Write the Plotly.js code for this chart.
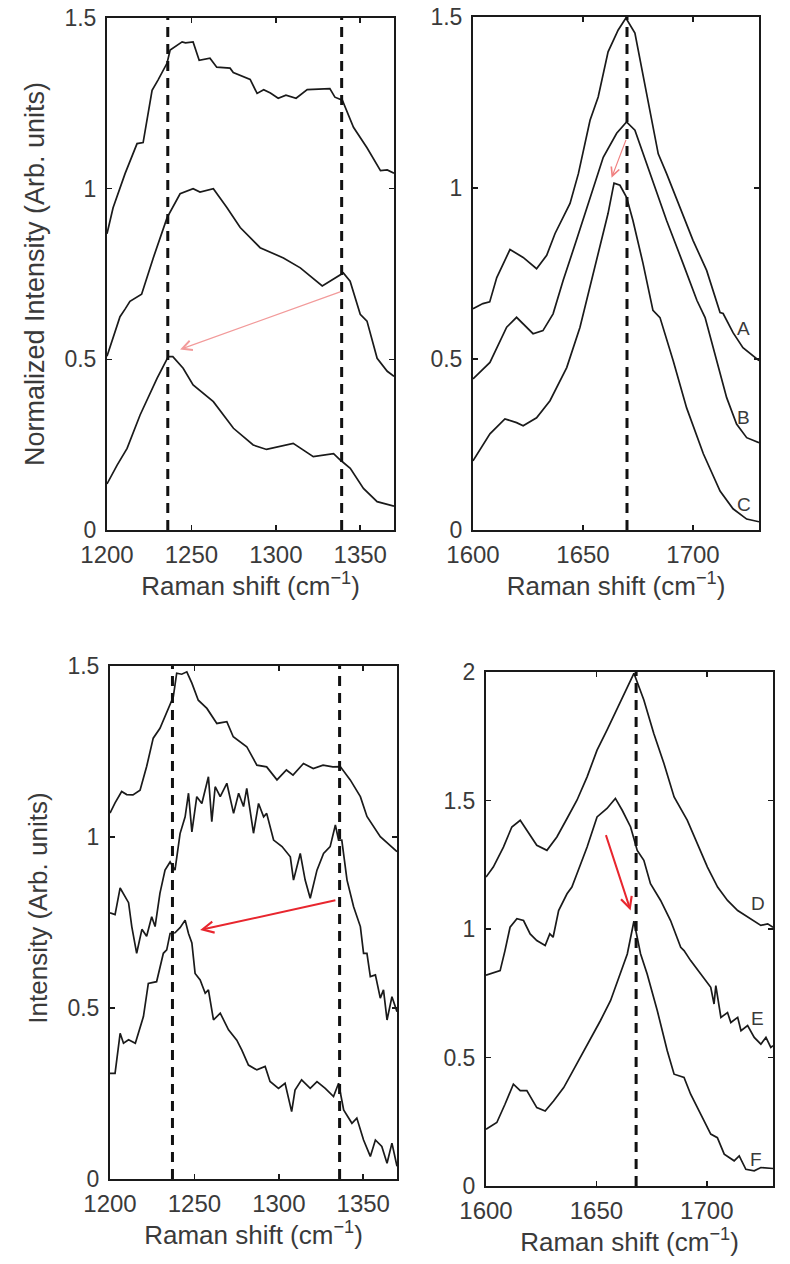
<!DOCTYPE html>
<html>
<head>
<meta charset="utf-8">
<script src="https://cdn.plot.ly/plotly-3.0.1.min.js"></script>
<style>html,body{margin:0;padding:0;background:#fff;}#chart{width:790px;height:1264px;}</style>
</head>
<body>
<div id="chart"></div>
<script>
// ---------- Panel 1 (top-left): 1200–1370 cm-1, normalized ----------
const p1_A_x = [1200,1203.6,1210.7,1217.8,1221.4,1226.7,1230.2,1235.6,1237.4,1240.3,1244.5,1246.5,1251,1254.6,1261,1265,1272.9,1274.8,1284.8,1288.9,1292.8,1296.8,1301.4,1306,1312,1318.6,1326.5,1332,1335,1339.4,1346,1354,1362,1366,1370];
const p1_A_y = [0.868,0.944,1.044,1.132,1.135,1.288,1.318,1.368,1.406,1.415,1.43,1.427,1.43,1.376,1.382,1.356,1.353,1.34,1.32,1.279,1.29,1.28,1.265,1.274,1.265,1.29,1.293,1.293,1.268,1.259,1.18,1.12,1.053,1.055,1.045];
const p1_B_x = [1200,1204.7,1207.7,1210.7,1213.6,1220.5,1227.4,1235.6,1243.3,1251,1255.1,1263,1271,1278.9,1290.7,1304.5,1314.5,1327.5,1334.2,1340,1344,1350,1354,1360,1366,1370];
const p1_B_y = [0.509,0.582,0.625,0.647,0.67,0.691,0.797,0.915,0.985,1.0,0.99,1.0,0.945,0.886,0.827,0.797,0.768,0.715,0.735,0.753,0.729,0.632,0.612,0.503,0.465,0.45];
const p1_C_x = [1200,1206,1211.9,1219.6,1229.7,1236.3,1239,1245.1,1251,1263,1274.9,1286.6,1294.5,1310.3,1322.2,1334.2,1338.2,1344.1,1351.9,1360,1370];
const p1_C_y = [0.135,0.19,0.239,0.337,0.445,0.508,0.508,0.474,0.425,0.376,0.298,0.249,0.236,0.254,0.215,0.224,0.205,0.181,0.122,0.083,0.07];
const p1_dash = [1236, 1339];
const p1_arrow = {fromX: 1339.4, fromY: 0.70, toX: 1243.3, toY: 0.529};

// ---------- Panel 2 (top-right): 1600–1730 cm-1 ----------
const p2_A_x = [1600,1604.5,1607.6,1610.8,1616.8,1622.8,1628.9,1633.5,1637.3,1644.1,1647.9,1653.2,1656.9,1661.4,1666,1669.5,1673.6,1679,1684.2,1688,1694.1,1700,1706.2,1712.3,1713.7,1718.2,1722.7,1730];
const p2_A_y = [0.647,0.662,0.667,0.738,0.82,0.797,0.764,0.803,0.867,0.955,1.042,1.198,1.266,1.398,1.462,1.497,1.453,1.277,1.10,1.042,0.945,0.847,0.759,0.636,0.633,0.577,0.533,0.495];
const p2_B_x = [1600,1607.7,1615.3,1619.8,1627.3,1631.8,1636.4,1641,1647,1653.2,1659.2,1665.3,1669.8,1673.6,1680.4,1688,1695.5,1701.8,1705.5,1710.8,1715.3,1719.8,1724.4,1730];
const p2_B_y = [0.442,0.49,0.593,0.622,0.574,0.583,0.632,0.73,0.847,0.973,1.09,1.16,1.193,1.169,1.043,0.905,0.779,0.671,0.621,0.495,0.387,0.31,0.27,0.255];
const p2_C_x = [1600,1607.7,1614.5,1619.8,1622.8,1628.9,1635,1642.6,1648.6,1651.7,1656.8,1661.4,1664.1,1666.8,1669.8,1672.7,1677.3,1681.8,1685,1691,1697.1,1704.7,1712.3,1718.2,1724.4,1730];
const p2_C_y = [0.202,0.281,0.325,0.314,0.305,0.328,0.378,0.475,0.592,0.671,0.808,0.926,1.014,1.008,0.973,0.905,0.779,0.642,0.621,0.495,0.357,0.223,0.114,0.062,0.032,0.024];
const p2_dash = [1670];
const p2_arrow = {fromX: 1669.8, fromY: 1.145, toX: 1663, toY: 1.03};
const p2_labels = ['A', 'B', 'C'];
const p2_labelX = [1723, 1723, 1723];
const p2_labelY = [0.59, 0.33, 0.076];

// ---------- Panel 3 (bottom-left): 1200–1370 cm-1 ----------
const p3_D_x = [1200,1203,1206.9,1209.9,1213.6,1217.8,1221.7,1225.6,1229.6,1233.6,1237.5,1239.5,1242.5,1245.5,1248.5,1252.3,1257.4,1263.3,1269.2,1273,1281,1287,1292.8,1298.9,1304.5,1308.4,1314.6,1320.4,1326.2,1332,1336.4,1342.3,1348.3,1352.2,1360.1,1370];
const p3_D_y = [1.07,1.10,1.133,1.124,1.123,1.137,1.206,1.289,1.318,1.366,1.41,1.479,1.476,1.483,1.45,1.40,1.376,1.332,1.337,1.293,1.264,1.21,1.205,1.167,1.196,1.181,1.215,1.20,1.21,1.205,1.206,1.167,1.118,1.06,1.001,0.957];
const p3_E_x = [1200,1203,1206,1209,1211,1212.9,1215.8,1218.9,1221.7,1224.7,1226.7,1229.6,1232.6,1235.6,1238.5,1241.5,1244.5,1246.5,1248.5,1251.4,1254.4,1258.3,1260.3,1262.3,1265.3,1269.2,1273.2,1276.2,1279.1,1281,1285,1288,1291,1292.8,1296.9,1301.9,1306.8,1308.7,1312.7,1315.6,1318.6,1322.6,1326.5,1330.4,1333.5,1335.4,1337.3,1340.4,1344.3,1348.3,1350.2,1352.2,1354.2,1357.2,1360.1,1362,1364.1,1367,1370];
const p3_E_y = [0.778,0.773,0.851,0.827,0.808,0.738,0.66,0.73,0.71,0.767,0.738,0.836,0.903,0.927,0.903,1.01,1.059,1.128,1.015,1.118,1.098,1.176,1.045,1.147,1.118,1.157,1.069,1.128,1.089,1.142,1.011,1.098,1.059,1.069,0.991,0.972,0.942,0.874,0.952,0.874,0.821,0.903,0.952,0.972,1.035,0.991,0.991,0.874,0.796,0.738,0.66,0.66,0.592,0.597,0.529,0.553,0.465,0.533,0.489];
const p3_F_x = [1200,1203,1206,1208,1211,1215,1219.8,1222.7,1227.6,1231.6,1233.6,1235.6,1238.5,1241.5,1244.5,1246.5,1248.5,1250.4,1253.4,1256.4,1258.3,1261.3,1265.3,1270.2,1275.1,1278.1,1282,1287,1291.9,1294.8,1299.8,1303.7,1307.6,1309.6,1313.5,1318.6,1322.6,1327.5,1332.4,1335.4,1338.4,1343.3,1346.2,1350.2,1354.2,1357.2,1361,1364.1,1367,1370];
const p3_F_y = [0.309,0.309,0.426,0.397,0.407,0.397,0.475,0.572,0.577,0.66,0.67,0.718,0.72,0.735,0.757,0.718,0.69,0.601,0.582,0.543,0.553,0.465,0.485,0.436,0.406,0.377,0.333,0.319,0.329,0.285,0.265,0.28,0.197,0.26,0.29,0.265,0.285,0.265,0.241,0.28,0.202,0.163,0.178,0.114,0.066,0.114,0.095,0.046,0.105,0.037];
const p3_dash = [1237, 1336];
const p3_arrow = {fromX: 1334.4, fromY: 0.816, toX: 1253.4, toY: 0.728};

// ---------- Panel 4 (bottom-right): 1600–1730 cm-1 ----------
const p4_D_x = [1600,1603.3,1607.9,1611.7,1615.5,1618.5,1623,1627.6,1632.1,1636.7,1641.2,1645.8,1650.3,1654.8,1659.4,1664,1667,1671.5,1676,1680.6,1685.2,1691.2,1695.8,1700.3,1704.9,1709.4,1714,1718.5,1724.5,1727.6,1730];
const p4_D_y = [1.202,1.241,1.319,1.397,1.423,1.384,1.326,1.306,1.358,1.43,1.501,1.592,1.696,1.774,1.858,1.943,1.995,1.891,1.761,1.644,1.514,1.423,1.332,1.241,1.163,1.111,1.072,1.046,1.014,1.02,1.007];
const p4_E_x = [1600,1606.4,1608.6,1610.9,1614,1617,1620,1623,1626.8,1628.9,1630.4,1632.9,1636.7,1638.9,1641.2,1645.8,1650.3,1654.8,1658.6,1661.7,1665.5,1668.5,1671.5,1674.5,1679.1,1683.6,1688.2,1689.7,1692.7,1697.3,1701.8,1703.3,1704.1,1706.4,1709.4,1710.9,1714,1715.5,1718.5,1721.5,1724.5,1726.8,1729,1730];
const p4_E_y = [0.82,0.838,0.916,1.007,1.04,1.033,0.981,0.955,0.936,0.981,0.968,1.072,1.137,1.163,1.215,1.319,1.436,1.469,1.508,1.462,1.397,1.306,1.267,1.176,1.111,1.033,0.929,0.916,0.877,0.825,0.773,0.708,0.78,0.656,0.675,0.636,0.656,0.604,0.624,0.578,0.552,0.578,0.539,0.546];
const p4_F_x = [1600,1604.9,1608.6,1612.4,1615.5,1618.5,1623,1626.8,1630.6,1635.2,1639,1642.7,1647.3,1651.8,1656.4,1660.2,1664,1667,1670,1673,1677.6,1682.1,1685.2,1689.7,1692.7,1697.3,1701.8,1704.8,1707.9,1712.4,1714.7,1717.7,1721.5,1724.5,1730];
const p4_F_y = [0.221,0.247,0.318,0.396,0.371,0.371,0.305,0.292,0.331,0.383,0.442,0.5,0.578,0.643,0.721,0.812,0.903,1.03,0.904,0.825,0.682,0.526,0.435,0.422,0.357,0.279,0.202,0.188,0.124,0.098,0.117,0.065,0.059,0.072,0.068];
const p4_dash = [1668];
const p4_arrow = {fromX: 1654.1, fromY: 1.371, toX: 1665.5, toY: 1.072};
const p4_labels = ['D', 'E', 'F'];
const p4_labelX = [1723, 1723, 1722.5];
const p4_labelY = [1.10, 0.65, 0.104];

// ---------- Axis texts ----------
const leftRange = [1200, 1370];
const rightRange = [1600, 1730];
const xTitle = 'Raman shift (cm<sup>−1</sup>)';
const yTitleTop = 'Normalized Intensity (Arb. units)';
const yTitleBottom = '&nbsp;&nbsp;&nbsp;&nbsp;Intensity (Arb. units)';

// ---------- Build figure ----------
const FONT = 'Liberation Sans, Arial, Helvetica, sans-serif';
const TEXT = '#3a3a3a';
const LINE = '#1a1a1a';

function curve(x, y, xa, ya) {
  return {x: x, y: y, xaxis: xa, yaxis: ya, type: 'scatter', mode: 'lines',
          line: {color: LINE, width: 1.7}, hoverinfo: 'skip', showlegend: false};
}

const traces = [
  curve(p1_A_x, p1_A_y, 'x', 'y'), curve(p1_B_x, p1_B_y, 'x', 'y'), curve(p1_C_x, p1_C_y, 'x', 'y'),
  curve(p2_A_x, p2_A_y, 'x2', 'y2'), curve(p2_B_x, p2_B_y, 'x2', 'y2'), curve(p2_C_x, p2_C_y, 'x2', 'y2'),
  curve(p3_D_x, p3_D_y, 'x3', 'y3'), curve(p3_E_x, p3_E_y, 'x3', 'y3'), curve(p3_F_x, p3_F_y, 'x3', 'y3'),
  curve(p4_D_x, p4_D_y, 'x4', 'y4'), curve(p4_E_x, p4_E_y, 'x4', 'y4'), curve(p4_F_x, p4_F_y, 'x4', 'y4')
];

function xAxis(range, domain, anchor) {
  return {range: range, domain: domain, anchor: anchor, dtick: 50, tick0: 0,
    showline: true, linecolor: LINE, linewidth: 2, mirror: 'ticks',
    ticks: 'inside', ticklen: 5, tickwidth: 1.5, tickcolor: LINE,
    showgrid: false, zeroline: false, ticklabelstandoff: 2,
    tickfont: {family: FONT, size: 24, color: TEXT},
    title: {text: xTitle, font: {family: FONT, size: 26, color: TEXT}, standoff: 8}};
}
function yAxis(range, domain, anchor, title, tsize) {
  const ax = {range: range, domain: domain, anchor: anchor, dtick: 0.5, tick0: 0,
    showline: true, linecolor: LINE, linewidth: 2, mirror: 'ticks',
    ticks: 'inside', ticklen: 5, tickwidth: 1.5, tickcolor: LINE,
    showgrid: false, zeroline: false, ticklabelstandoff: 4,
    tickfont: {family: FONT, size: 23, color: TEXT}};
  if (title) ax.title = {text: title, font: {family: FONT, size: tsize, color: TEXT}, standoff: 12};
  return ax;
}

const W = 790, H = 1264;
function dx(a, b) { return [a / W, b / W]; }
function dy(top, bottom) { return [1 - bottom / H, 1 - top / H]; }

const shapes = [];
function dashes(list, xref, yref) {
  list.forEach(function (v) {
    shapes.push({type: 'line', xref: xref, yref: yref + ' domain', x0: v, x1: v, y0: 0, y1: 1,
      line: {color: '#111', width: 3, dash: '10px,7px'}});
  });
}
dashes(p1_dash, 'x', 'y');
dashes(p2_dash, 'x2', 'y2');
dashes(p3_dash, 'x3', 'y3');
dashes(p4_dash, 'x4', 'y4');

const annotations = [];
function arrow(a, xr, yr, color, width, size) {
  annotations.push({x: a.toX, y: a.toY, ax: a.fromX, ay: a.fromY, xref: xr, yref: yr, axref: xr, ayref: yr,
    text: '', showarrow: true, arrowhead: 5, arrowsize: size, arrowwidth: width, arrowcolor: color, standoff: 0});
}
arrow(p1_arrow, 'x', 'y', '#f29a9a', 1.2, 1.6);
arrow(p2_arrow, 'x2', 'y2', '#f08080', 1.2, 1.4);
arrow(p3_arrow, 'x3', 'y3', '#e8262e', 2, 1.1);
arrow(p4_arrow, 'x4', 'y4', '#e8262e', 2, 1.1);

function labels(txt, xs, ys, xr, yr) {
  txt.forEach(function (t, i) {
    annotations.push({x: xs[i], y: ys[i], xref: xr, yref: yr, text: t, showarrow: false,
      font: {family: FONT, size: 19, color: TEXT}});
  });
}
labels(p2_labels, p2_labelX, p2_labelY, 'x2', 'y2');
labels(p4_labels, p4_labelX, p4_labelY, 'x4', 'y4');

const layout = {
  width: W, height: H, margin: {l: 0, r: 0, t: 0, b: 0},
  paper_bgcolor: '#fff', plot_bgcolor: '#fff', showlegend: false,
  xaxis: xAxis(leftRange, dx(107, 394), 'y'),
  yaxis: yAxis([0, 1.5], dy(18, 530), 'x', yTitleTop, 27),
  xaxis2: xAxis(rightRange, dx(473, 759), 'y2'),
  yaxis2: yAxis([0, 1.5], dy(17, 530), 'x2', null, 0),
  xaxis3: xAxis(leftRange, dx(110, 397), 'y3'),
  yaxis3: yAxis([0, 1.5], dy(666, 1179), 'x3', yTitleBottom, 26),
  xaxis4: xAxis(rightRange, dx(486, 773), 'y4'),
  yaxis4: yAxis([0, 2], dy(672, 1186), 'x4', null, 0),
  shapes: shapes, annotations: annotations
};

Plotly.newPlot('chart', traces, layout, {staticPlot: true, displayModeBar: false});
</script>
</body>
</html>
